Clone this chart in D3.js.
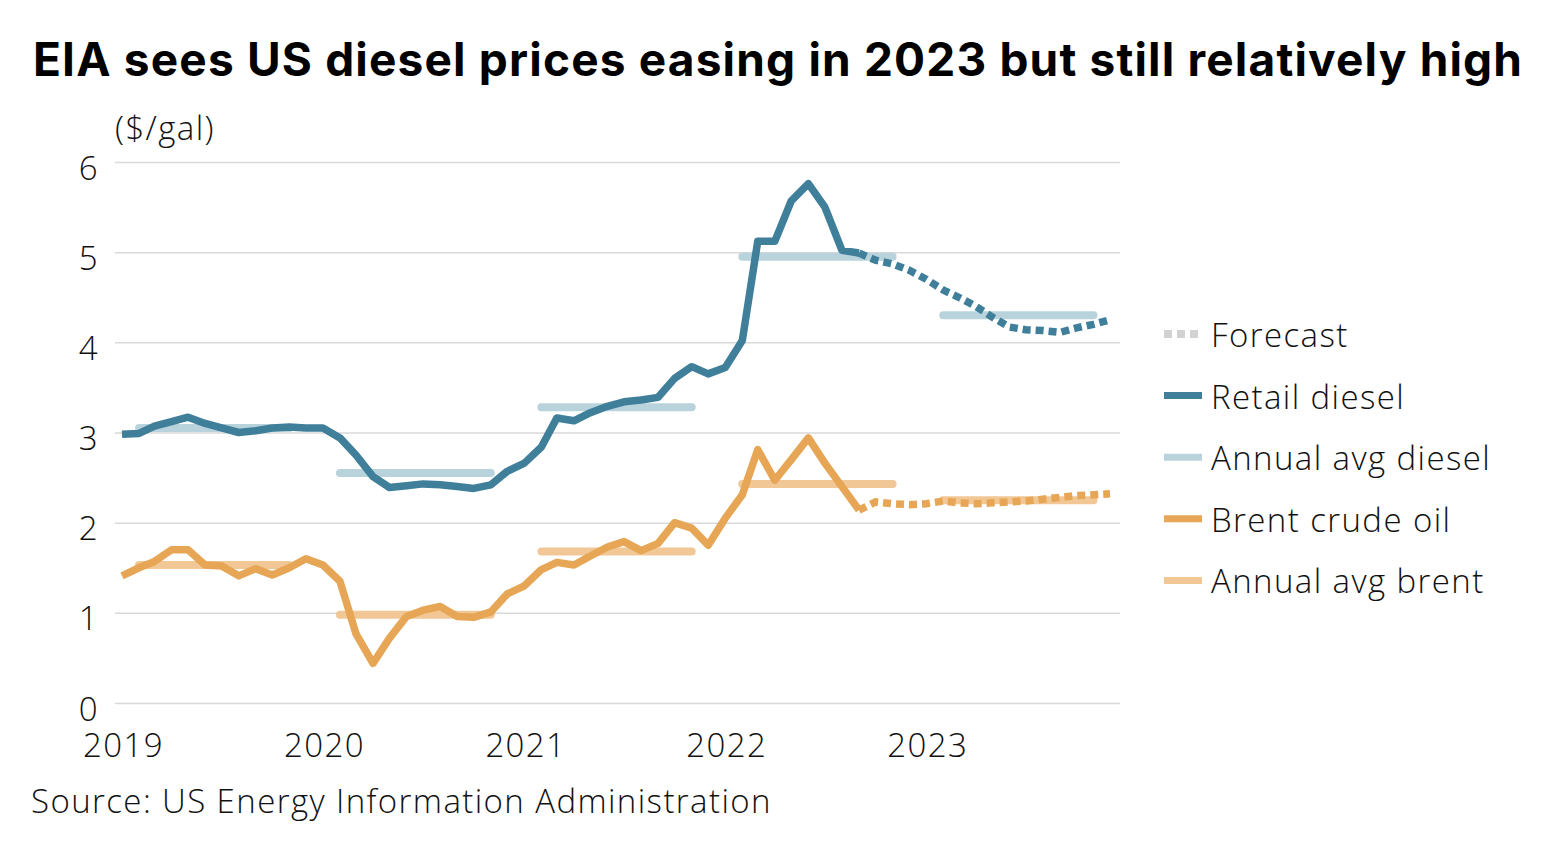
<!DOCTYPE html>
<html>
<head>
<meta charset="utf-8">
<script src="https://cdn.jsdelivr.net/npm/d3@7"></script>
<style>
  body { margin: 0; background: #fff; }
</style>
</head>
<body>
<script>
// monthly values Jan 2019 .. Dec 2023 ($/gal)
const months = d3.timeMonth.range(new Date(2019, 0, 1), new Date(2024, 0, 1));
const lastActual = 44; // Sep 2022, forecast after that

const retailDiesel = [
  2.98, 2.99, 3.07, 3.12, 3.17, 3.10, 3.05, 3.00, 3.02, 3.05, 3.06, 3.05,
  3.05, 2.94, 2.75, 2.51, 2.39, 2.41, 2.43, 2.42, 2.40, 2.38, 2.42, 2.57,
  2.66, 2.84, 3.16, 3.13, 3.22, 3.29, 3.34, 3.36, 3.39, 3.60, 3.73, 3.65,
  3.72, 4.02, 5.12, 5.12, 5.57, 5.76, 5.50, 5.02, 4.99, 4.91, 4.87, 4.80,
  4.70, 4.58, 4.50, 4.40, 4.28, 4.17, 4.14, 4.13, 4.11, 4.16, 4.20, 4.25
];
const brentCrude = [
  1.41, 1.50, 1.57, 1.70, 1.70, 1.53, 1.52, 1.41, 1.49, 1.42, 1.50, 1.60,
  1.53, 1.35, 0.77, 0.44, 0.72, 0.96, 1.03, 1.07, 0.96, 0.95, 1.01, 1.21,
  1.30, 1.48, 1.56, 1.53, 1.63, 1.73, 1.79, 1.69, 1.77, 2.00, 1.94, 1.75,
  2.05, 2.31, 2.81, 2.47, 2.70, 2.94, 2.66, 2.40, 2.14, 2.23, 2.21, 2.20,
  2.21, 2.24, 2.22, 2.21, 2.22, 2.23, 2.24, 2.26, 2.28, 2.30, 2.31, 2.32
];

const years = [2019, 2020, 2021, 2022, 2023];
const avgDiesel = [3.05, 2.55, 3.28, 4.95, 4.30];
const avgBrent = [1.53, 0.98, 1.68, 2.43, 2.25];

const yTicks = [0, 1, 2, 3, 4, 5, 6];

const legendItems = [
  { label: "Forecast", color: "#d2d2d2", dash: "8,5" },
  { label: "Retail diesel", color: "#3f7f9a", dash: null },
  { label: "Annual avg diesel", color: "#b9d3dd", dash: null },
  { label: "Brent crude oil", color: "#e6a655", dash: null },
  { label: "Annual avg brent", color: "#f1c895", dash: null }
];

const bodyFont = "'Open Sans', Inter, sans-serif";
const bodySize = 33;
const bodySpacing = 1.4;

const W = 1560, H = 842;
const svg = d3.select("body").append("svg")
  .attr("width", W)
  .attr("height", H);

const x = d3.scaleTime()
  .domain([months[0], months[months.length - 1]])
  .range([122, 1110]);
const y = d3.scaleLinear()
  .domain([0, 6])
  .range([703, 162]);

// light body text style
function body(sel) {
  sel.style("font-family", bodyFont)
    .style("font-size", bodySize + "px")
    .style("font-weight", 300)
    .style("letter-spacing", bodySpacing + "px")
    .attr("fill", "#111");
}

// title, letter-spacing tuned so it spans the same width as the original
const title = svg.append("text")
  .attr("x", 33)
  .attr("y", 76)
  .style("font-family", "Inter, sans-serif")
  .style("font-size", "46px")
  .style("font-weight", 700)
  .attr("fill", "#000")
  .text("EIA sees US diesel prices easing in 2023 but still relatively high");
{
  const n = title.text().length;
  const w = title.node().getComputedTextLength();
  title.style("letter-spacing", ((1489 - w) / (n - 1)) + "px");
}

// unit label
svg.append("text")
  .attr("x", 115)
  .attr("y", 140)
  .call(body)
  .text("($/gal)");

// gridlines + y labels
const yAxis = d3.axisLeft(y).tickValues(yTicks).tickFormat(d3.format("d")).tickSize(0).tickPadding(0);
const gy = svg.append("g").call(yAxis);
gy.select(".domain").remove();
gy.selectAll(".tick line")
  .attr("x1", 115)
  .attr("x2", 1120)
  .attr("stroke", "#d9d9d9")
  .attr("stroke-width", 1.5);
gy.selectAll(".tick text")
  .attr("x", 99)
  .attr("dy", 17)
  .call(body);

// x labels
const xAxis = d3.axisBottom(x)
  .tickValues(years.map(yr => new Date(yr, 0, 1)))
  .tickFormat(d3.timeFormat("%Y"))
  .tickSize(0)
  .tickPadding(0);
const gx = svg.append("g").attr("transform", "translate(0,757)").call(xAxis);
gx.select(".domain").remove();
gx.selectAll(".tick text")
  .attr("y", 0)
  .attr("dy", 0)
  .attr("dx", 1)
  .call(body);

// annual average bars (Feb..Nov of each year)
function avgBars(vals, color) {
  svg.append("g").selectAll("line")
    .data(years)
    .join("line")
    .attr("x1", (yr) => x(new Date(yr, 1, 1)))
    .attr("x2", (yr) => x(new Date(yr, 10, 1)))
    .attr("y1", (yr, i) => y(vals[i]))
    .attr("y2", (yr, i) => y(vals[i]))
    .attr("stroke", color)
    .attr("stroke-width", 8)
    .attr("stroke-linecap", "round");
}
avgBars(avgDiesel, legendItems[2].color);
avgBars(avgBrent, legendItems[4].color);

// series lines: solid actual, dashed forecast
const line = d3.line()
  .x((d) => x(d.date))
  .y((d) => y(d.v));

function drawSeries(vals, color) {
  const pts = vals.map((v, i) => ({ date: months[i], v: v }));
  svg.append("path")
    .datum(pts.slice(lastActual))
    .attr("d", line)
    .attr("fill", "none")
    .attr("stroke", color)
    .attr("stroke-width", 7.5)
    .attr("stroke-dasharray", "8,5");
  svg.append("path")
    .datum(pts.slice(0, lastActual + 1))
    .attr("d", line)
    .attr("fill", "none")
    .attr("stroke", color)
    .attr("stroke-width", 7.5)
    .attr("stroke-linejoin", "round");
}
drawSeries(brentCrude, legendItems[3].color);
drawSeries(retailDiesel, legendItems[1].color);

// legend
const lg = svg.append("g").selectAll("g")
  .data(legendItems)
  .join("g")
  .attr("transform", (d, i) => `translate(1164,${347 + i * 61.6})`);
lg.append("line")
  .attr("x1", 0)
  .attr("x2", (d) => d.dash ? 36 : 38)
  .attr("y1", -13)
  .attr("y2", -13)
  .attr("stroke", (d) => d.color)
  .attr("stroke-width", (d) => d.dash ? 8 : 7)
  .attr("stroke-dasharray", (d) => d.dash);
lg.append("text")
  .attr("x", 47)
  .call(body)
  .text((d) => d.label);

// source
svg.append("text")
  .attr("x", 31)
  .attr("y", 813)
  .call(body)
  .text("Source: US Energy Information Administration");
</script>
</body>
</html>
